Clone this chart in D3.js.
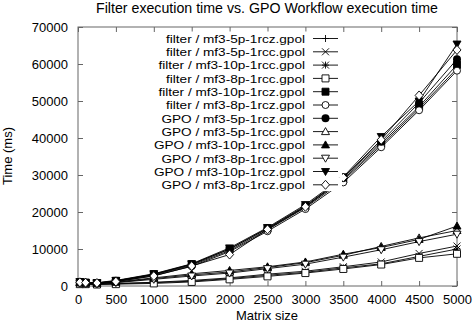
<!DOCTYPE html>
<html><head><meta charset="utf-8">
<script src="https://cdn.jsdelivr.net/npm/d3@7"></script>
<style>body{margin:0;background:#fff}svg{display:block}text{font-family:"Liberation Sans",Arial,sans-serif;fill:#000}</style>
</head><body><svg id="c" width="474" height="325"></svg>
<script>
const sizes = [25, 100, 250, 500, 1000, 1500, 2000, 2500, 3000, 3500, 4000, 4500, 5000];
const seriesNames = [
  "filter / mf3-5p-1rcz.gpol", "filter / mf3-5p-1rcc.gpol", "filter / mf3-10p-1rcc.gpol",
  "filter / mf3-8p-1rcc.gpol", "filter / mf3-10p-1rcz.gpol", "filter / mf3-8p-1rcz.gpol",
  "GPO / mf3-5p-1rcz.gpol", "GPO / mf3-5p-1rcc.gpol", "GPO / mf3-10p-1rcc.gpol",
  "GPO / mf3-8p-1rcc.gpol", "GPO / mf3-10p-1rcz.gpol", "GPO / mf3-8p-1rcz.gpol"];
const markers = ["plus","cross","star","square","squareF","circle","circleF","tri","triF","triD","triDF","diamond"];
const f5rcz  = [900, 800, 700, 1300, 3000, 5600, 9600, 15200, 21200, 28500, 38000, 48000, 58800];
const f5rcc  = [700, 600, 500, 700, 1000, 1500, 2200, 3200, 4000, 5200, 6500, 8800, 10800];
const f10rcc = [600, 500, 500, 600, 900, 1300, 2000, 2900, 3700, 4900, 6000, 8000, 10000];
const f8rcc  = [500, 500, 400, 500, 700, 1100, 1800, 2600, 3500, 4600, 5800, 7600, 8700];
const f10rcz = [1000, 900, 800, 1400, 3200, 5900, 10000, 15500, 21500, 28800, 38500, 48500, 59800];
const f8rcz  = [800, 700, 600, 1200, 2800, 5300, 9300, 14800, 20800, 28000, 37500, 47500, 58200];
const g5rcz  = [1000, 900, 800, 1400, 3100, 5800, 10000, 15600, 21700, 29200, 39000, 49500, 61300];
const g5rcc  = [900, 800, 700, 1000, 2000, 3000, 3800, 5000, 6300, 8300, 10700, 13000, 15000];
const g10rcc = [1000, 900, 800, 1100, 2200, 3300, 4200, 5200, 6500, 8600, 10400, 12600, 16200];
const g8rcc  = [800, 700, 600, 900, 1800, 2700, 3500, 4700, 5900, 7800, 9800, 12000, 14000];
const g10rcz = [1200, 1000, 900, 1500, 3300, 6000, 10300, 15800, 22000, 29500, 40400, 50000, 65400];
const g8rcz  = [1000, 900, 800, 1200, 2700, 5400, 8500, 15300, 21400, 29300, 39500, 51500, 63800];
const allValues = [f5rcz, f5rcc, f10rcc, f8rcc, f10rcz, f8rcz, g5rcz, g5rcc, g10rcc, g8rcc, g10rcz, g8rcz];
const xTicks = [0,500,1000,1500,2000,2500,3000,3500,4000,4500,5000];
const yTicks = [0,10000,20000,30000,40000,50000,60000,70000];

const svg = d3.select("#c");
const L = 78, R = 457, T = 27, B = 286;
const x = d3.scaleLinear().domain([0,5000]).range([L,R]);
const y = d3.scaleLinear().domain([0,70000]).range([B,T]);
const frame = "#666";

svg.append("text").attr("x", 267).attr("y", 13).attr("text-anchor","middle").attr("font-size",14.2).text("Filter execution time vs. GPO Workflow execution time");

function styleAxis(g){
  g.select(".domain").remove();
  g.selectAll(".tick line").attr("stroke", frame);
  g.selectAll(".tick text").attr("font-size",13).attr("font-family","Liberation Sans, Arial, sans-serif");
}
svg.append("g").attr("transform",`translate(0,${B})`).call(d3.axisBottom(x).tickValues(xTicks).tickFormat(d3.format("d")).tickSizeInner(-5).tickSizeOuter(0).tickPadding(9)).call(styleAxis);
svg.append("g").attr("transform",`translate(0,${T})`).call(d3.axisTop(x).tickValues(xTicks).tickFormat("").tickSizeInner(-5).tickSizeOuter(0)).call(styleAxis);
svg.append("g").attr("transform",`translate(${L},0)`).call(d3.axisLeft(y).tickValues(yTicks).tickFormat(d3.format("d")).tickSizeInner(-5).tickSizeOuter(0).tickPadding(10)).call(styleAxis);
svg.append("g").attr("transform",`translate(${R},0)`).call(d3.axisRight(y).tickValues(yTicks).tickFormat("").tickSizeInner(-5).tickSizeOuter(0)).call(styleAxis);
svg.append("rect").attr("x",L).attr("y",T).attr("width",R-L).attr("height",B-T).attr("fill","none").attr("stroke",frame);

svg.append("text").attr("x",267).attr("y",320).attr("text-anchor","middle").attr("font-size",13).text("Matrix size");
svg.append("text").attr("transform","translate(12,156) rotate(-90)").attr("text-anchor","middle").attr("font-size",13).text("Time (ms)");

function marker(g, type, cx, cy){
  const s = 3.5;
  const P = (pts, fill) => g.append("polygon").attr("points", pts.map(p=>[cx+p[0],cy+p[1]].join(",")).join(" ")).attr("fill",fill?"#000":"#fff").attr("stroke","#000").attr("stroke-width",0.9);
  const Ln = (x1,y1,x2,y2) => g.append("line").attr("x1",cx+x1).attr("y1",cy+y1).attr("x2",cx+x2).attr("y2",cy+y2).attr("stroke","#000").attr("stroke-width",0.9);
  switch(type){
    case "plus": Ln(-s,0,s,0); Ln(0,-s,0,s); break;
    case "cross": Ln(-s,-s,s,s); Ln(-s,s,s,-s); break;
    case "star": Ln(-s,0,s,0); Ln(0,-s,0,s); Ln(-s,-s,s,s); Ln(-s,s,s,-s); break;
    case "square": P([[-s,-s],[s,-s],[s,s],[-s,s]], false); break;
    case "squareF": P([[-s,-s],[s,-s],[s,s],[-s,s]], true); break;
    case "circle": g.append("circle").attr("cx",cx).attr("cy",cy).attr("r",s).attr("fill","#fff").attr("stroke","#000").attr("stroke-width",0.9); break;
    case "circleF": g.append("circle").attr("cx",cx).attr("cy",cy).attr("r",s+0.5).attr("fill","#000"); break;
    case "tri": P([[0,-s-0.5],[s+0.5,s-0.5],[-s-0.5,s-0.5]], false); break;
    case "triF": P([[0,-s-0.5],[s+0.5,s-0.5],[-s-0.5,s-0.5]], true); break;
    case "triD": P([[0,s+0.5],[s+0.5,-s+0.5],[-s-0.5,-s+0.5]], false); break;
    case "triDF": P([[0,s+0.5],[s+0.5,-s+0.5],[-s-0.5,-s+0.5]], true); break;
    case "diamond": P([[0,-s-1],[s+0.5,0],[0,s+1],[-s-0.5,0]], false); break;
  }
}

const line = d3.line().x((d,i)=>x(sizes[i])).y(d=>y(d));
const plot = svg.append("g");
allValues.forEach((vals, k) => {
  const g = plot.append("g");
  g.append("path").attr("d", line(vals)).attr("fill","none").attr("stroke","#000").attr("stroke-width",0.9);
  vals.forEach((v,i) => marker(g, markers[k], x(sizes[i]), y(v)));
});

const leg = svg.append("g");
seriesNames.forEach((name,k) => {
  const yy = 38.5 + k*13.3;
  leg.append("rect").attr("x",160).attr("y",yy-7).attr("width",182).attr("height",13.3).attr("fill","#fff");
});
seriesNames.forEach((name,k) => {
  const yy = 38.5 + k*13.3;
  const t = leg.append("text").attr("x",305).attr("y",yy+4.3).attr("text-anchor","end").attr("font-size",13.6).text(name);
  const w = t.node().getComputedTextLength();
  t.attr("font-size",11.4).attr("textLength",w).attr("lengthAdjust","spacingAndGlyphs");
  leg.append("line").attr("x1",313).attr("x2",338).attr("y1",yy).attr("y2",yy).attr("stroke","#000").attr("stroke-width",0.9);
  marker(leg, markers[k], 325.5, yy);
});
</script></body></html>
